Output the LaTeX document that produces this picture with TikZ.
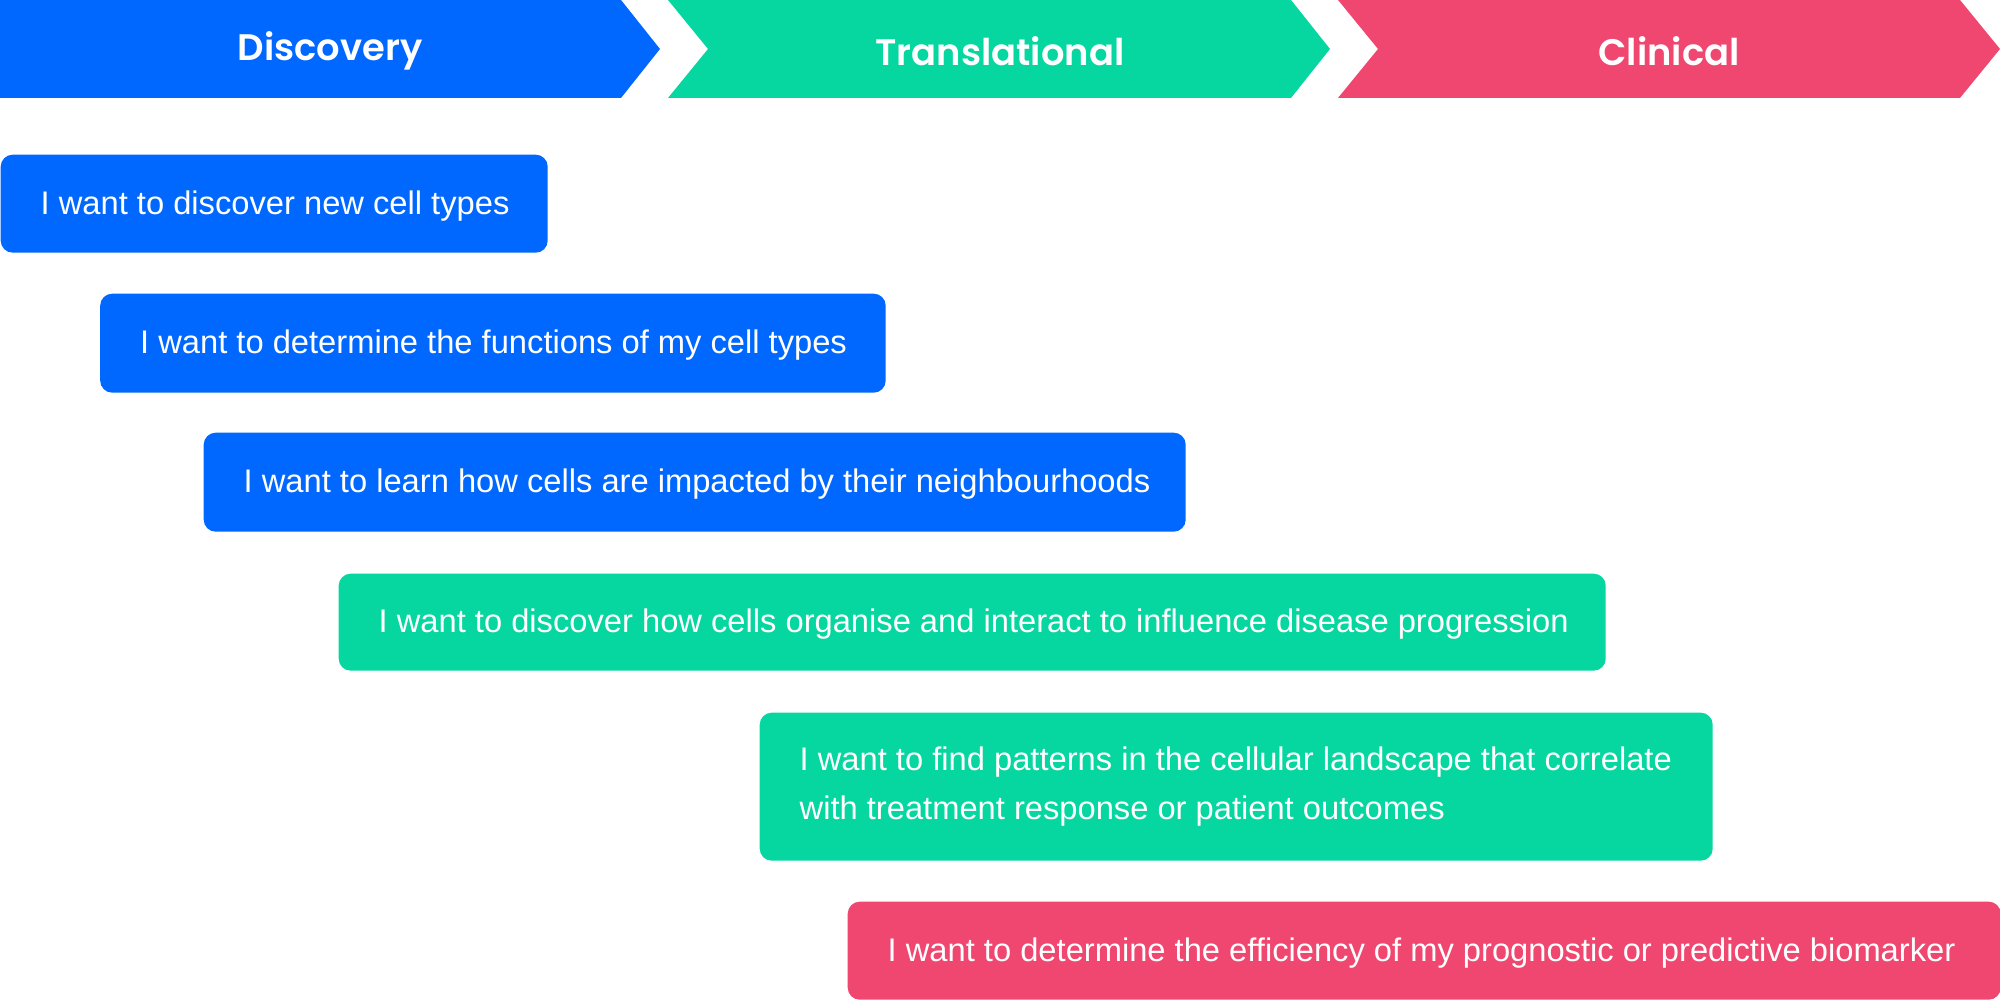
\documentclass[tikz,border=0pt]{standalone}
\usepackage{fontspec}
\setmainfont{Liberation Sans}
\newfontfamily\headfont{Poppins}[BoldFont={Poppins SemiBold}]
\definecolor{dblue}{HTML}{0068FF}
\definecolor{dgreen}{HTML}{06D6A0}
\definecolor{dpink}{HTML}{EF476F}
\tikzset{
  head/.style={font=\headfont\bfseries\fontsize{10.5}{12}\selectfont, text=white, inner sep=0pt},
  wantbox/.style={rounded corners=0.12cm, anchor=north west, inner sep=0pt},
  wanttext/.style={text=white, anchor=west, inner sep=0pt, align=left, font=\fontsize{9.3}{13.9}\selectfont},
}
\begin{document}
\begin{tikzpicture}
\useasboundingbox (0,0) rectangle (20,10);
% header chevrons
\fill[dblue] (0,10) -- (6.21,10) -- (6.60,9.51) -- (6.21,9.02) -- (0,9.02) -- cycle;
\fill[dgreen] (6.68,10) -- (12.91,10) -- (13.30,9.51) -- (12.91,9.02) -- (6.68,9.02) -- (7.08,9.51) -- cycle;
\fill[dpink] (13.38,10) -- (19.60,10) -- (20,9.51) -- (19.60,9.02) -- (13.38,9.02) -- (13.78,9.51) -- cycle;
\node[head] (h1) at (3.30,9.49) {Discovery};
\node[head] (h2) at (10.00,9.49) {Translational};
\node[head] (h3) at (16.69,9.49) {Clinical};
% boxes
\node[wantbox, fill=dblue, minimum width=5.47cm, minimum height=0.98cm] (b1) at (0,8.46) {};
\node[wanttext] (t1) at ([xshift=0.4cm,yshift=-0.02cm]b1.west) {I want to discover new cell types};
\node[wantbox, fill=dblue, minimum width=7.855cm, minimum height=0.99cm] (b2) at (0.995,7.07) {};
\node[wanttext] (t2) at ([xshift=0.4cm,yshift=-0.02cm]b2.west) {I want to determine the functions of my cell types};
\node[wantbox, fill=dblue, minimum width=9.82cm, minimum height=0.99cm] (b3) at (2.03,5.68) {};
\node[wanttext] (t3) at ([xshift=0.4cm,yshift=-0.02cm]b3.west) {I want to learn how cells are impacted by their neighbourhoods};
\node[wantbox, fill=dgreen, minimum width=12.67cm, minimum height=0.97cm] (b4) at (3.38,4.27) {};
\node[wanttext] (t4) at ([xshift=0.4cm,yshift=-0.02cm]b4.west) {I want to discover how cells organise and interact to influence disease progression};
\node[wantbox, fill=dgreen, minimum width=9.53cm, minimum height=1.48cm] (b5) at (7.59,2.88) {};
\node[wanttext] (t5) at ([xshift=0.4cm]b5.west) {I want to find patterns in the cellular landscape that correlate\\with treatment response or patient outcomes};
\node[wantbox, fill=dpink, minimum width=11.53cm, minimum height=0.98cm] (b6) at (8.47,0.99) {};
\node[wanttext] (t6) at ([xshift=0.4cm,yshift=-0.02cm]b6.west) {I want to determine the efficiency of my prognostic or predictive biomarker};
\end{tikzpicture}
\end{document}
